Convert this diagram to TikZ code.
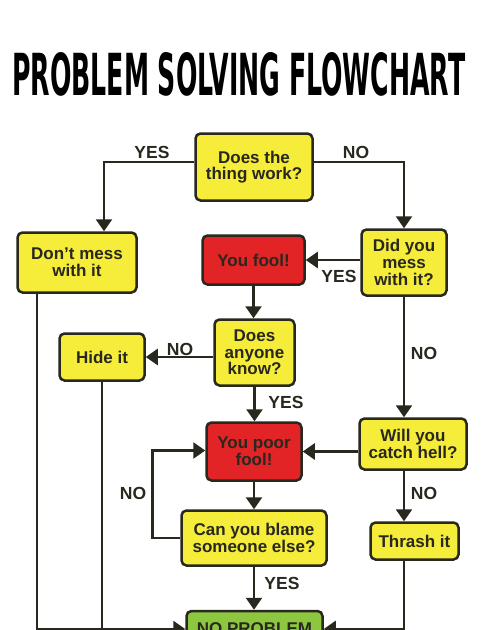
\documentclass[tikz,border=0pt]{standalone}
\usepackage{fontspec}
\setmainfont{Liberation Sans}
\newfontfamily\titlefont{DejaVu Sans Condensed}
\usetikzlibrary{arrows.meta,calc}
\definecolor{yel}{RGB}{246,236,58}
\definecolor{redb}{RGB}{226,36,38}
\definecolor{grn}{RGB}{141,198,63}
\definecolor{ink}{RGB}{40,40,30}
\begin{document}
\begin{tikzpicture}[x=1pt,y=-1pt,
  box/.style={draw=ink, line width=2.5pt, rounded corners=5pt, fill=yel,
    align=center, inner sep=0pt, text=ink,
    font=\fontsize{17}{16.6}\selectfont\bfseries},
  redbox/.style={box, fill=redb},
  grnbox/.style={box, fill=grn},
  arr/.style={draw=ink, line width=2.5pt, -{Triangle[width=16pt,length=12pt]}},
  ln/.style={draw=ink, line width=2.5pt},
  lbl/.style={text=ink, inner sep=0pt, font=\fontsize{17.5}{17.5}\selectfont\bfseries}]
\useasboundingbox (0,0) rectangle (480,630);
\clip (0,0) rectangle (480,630);
\fill[white] (0,0) rectangle (480,630);
\node[inner sep=0pt, anchor=north west] (title) at (12,52)
  {\resizebox{453pt}{43pt}{\titlefont\bfseries PROBLEM SOLVING FLOWCHART}};
% boxes
\node[box, minimum width=117pt, minimum height=67pt] (work) at (254,167) {Does the\\thing work?};
\node[box, minimum width=119pt, minimum height=60pt] (dont) at (77,262.5) {Don't mess\\with it};
\node[redbox, minimum width=102pt, minimum height=49pt] (fool) at (253.5,260) {You fool!};
\node[box, minimum width=85pt, minimum height=66pt] (didyou) at (404,262.5) {Did you\\mess\\with it?};
\node[box, minimum width=80pt, minimum height=66pt] (anyone) at (254.5,352.5) {Does\\anyone\\know?};
\node[box, minimum width=85pt, minimum height=47pt] (hide) at (102,357) {Hide it};
\node[redbox, minimum width=95pt, minimum height=58pt] (poor) at (254,451.5) {You poor\\fool!};
\node[box, minimum width=107pt, minimum height=51pt] (willyou) at (413,444) {Will you\\catch hell?};
\node[box, minimum width=145pt, minimum height=55pt] (blame) at (254,538) {Can you blame\\someone else?};
\node[box, minimum width=88pt, minimum height=37pt] (thrash) at (414.5,541) {Thrash it};
\node[grnbox, minimum width=136pt, minimum height=36pt] (noprob) at (254.5,629) {NO PROBLEM};
% connectors
\draw[arr] ([yshift=5pt]work.west) -| ([xshift=27pt]dont.north);
\node[lbl] (l1) at (152,152) {YES};
\draw[arr] ([yshift=5pt]work.east) -| (didyou.north);
\node[lbl] (l2) at (356,152) {NO};
\draw[arr] (fool.east -| didyou.west) -- (fool.east);
\node[lbl] (l3) at (339,276) {YES};
\draw[arr] (fool.south) -- (fool.south |- anyone.north);
\draw[arr] (anyone.west |- hide.east) -- (hide.east);
\node[lbl] (l4) at (180,349) {NO};
\draw[arr] (anyone.south) -- (anyone.south |- poor.north);
\node[lbl] (l5) at (286,402) {YES};
\draw[arr] (didyou.south) -- (didyou.south |- willyou.north);
\node[lbl] (l6) at (424,353) {NO};
\draw[arr] (willyou.west |- poor.east) -- (poor.east);
\draw[arr] (poor.south) -- (poor.south |- blame.north);
\draw[arr] (blame.west) -- ++(-28,0) |- ([yshift=1pt]poor.west);
\node[lbl] (l7) at (133,493) {NO};
\draw[arr] (willyou.south -| didyou.south) -- (thrash.north -| didyou.south);
\node[lbl] (l8) at (424,493) {NO};
\draw[arr] (blame.south) -- (blame.south |- noprob.north);
\node[lbl] (l9) at (282,583) {YES};
\draw[arr] ([xshift=-40pt]dont.south) |- (noprob.west);
\draw[ln] (hide.south) -- (hide.south |- noprob.west);
\draw[arr] (thrash.south -| didyou.south) |- (noprob.east);
\end{tikzpicture}
\end{document}
